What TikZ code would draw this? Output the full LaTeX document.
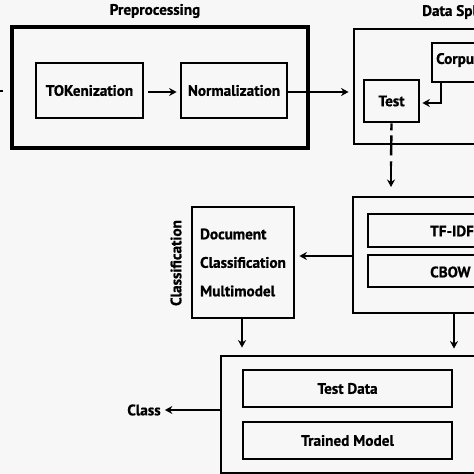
\documentclass[tikz,border=0pt]{standalone}
\usepackage{fontspec}
\setmainfont{PT Sans}[BoldFeatures={FakeBold=0.8}]
\usetikzlibrary{arrows.meta}
\begin{document}
\begin{tikzpicture}[x=1pt,y=-1pt,
  pbox/.style={draw=black,line width=3.8pt,inner sep=0pt},
  obox/.style={draw=black,line width=2.9pt,inner sep=0pt},
  ibox/.style={draw=black,line width=2.8pt,inner sep=0pt,font=\bfseries\fontsize{15.2}{18}\selectfont},
  txt/.style={inner sep=0pt,font=\bfseries\fontsize{15.2}{18}\selectfont},
  conn/.style={line width=2.5pt,-{Stealth[length=7.5pt,width=8pt]}},
]
\useasboundingbox (0,0) rectangle (474,474);
\clip (0,0) rectangle (474,474);
\fill[white!97!black] (0,0) rectangle (474,474);
% Preprocessing
\node[txt] (tprep) at (155,11) {Preprocessing};
\node[pbox,minimum width=296pt,minimum height=121pt] (prep) at (160,87.5) {};
\node[ibox,minimum width=107pt,minimum height=55pt] (tok) at (89.5,90.5) {TOKenization};
\node[ibox,minimum width=106pt,minimum height=55pt] (norm) at (234,90.5) {Normalization};
\coordinate (lin) at (3,91);
\coordinate (lout) at (-10,91);
\draw[line width=2.4pt] (lout) -- (lin);
\draw[conn,shorten <=4pt,shorten >=3pt] (tok.east |- 0,92) -- (norm.west |- 0,92);
% Data split
\node[txt,anchor=west] (tsplit) at (422,12) {Data Split};
\node[obox,minimum width=136pt,minimum height=115pt] (split) at (422,86.5) {};
\draw[conn,shorten >=4pt] (norm.east |- 0,92) -- (split.west |- 0,92);
\node[ibox,minimum width=58pt,minimum height=39pt] (corpus) at (461,62.5) {};
\node[txt,anchor=west] (tcorpus) at (436,60) {Corpus};
\node[ibox,minimum width=55pt,minimum height=42pt] (test) at (391.5,101) {Test};
\draw[conn,shorten >=2pt] (corpus.south -| 441,0) |- (test.east |- 0,103);
% Features
\node[obox,minimum width=137pt,minimum height=116pt] (feat) at (421.5,255) {};
\node[ibox,minimum width=122pt,minimum height=33pt] (tfidf) at (429,230.5) {};
\node[txt,anchor=west] (ttfidf) at (430,231) {TF-IDF};
\node[ibox,minimum width=122pt,minimum height=32pt] (cbow) at (429,271) {};
\node[txt,anchor=west] (tcbow) at (430,272) {CBOW};
\coordinate (dend) at (391,187);
\draw[line width=2.4pt,dash pattern=on 7pt off 5pt on 20pt off 6pt] (test.south) -- (391,166);
\draw[conn] (391,166) -- (dend);
% Document classification
\node[ibox,minimum width=102pt,minimum height=111pt,align=left,font=\bfseries\fontsize{15.2}{28.5}\selectfont] (doc) at (243,262.5) {Document\\Classification\\Multimodel};
\node[txt,rotate=90] (tclass) at (176,263) {Classification};
\draw[conn,shorten >=4pt] (feat.west |- 0,256) -- (doc.east |- 0,256);
% Bottom
\node[obox,minimum width=269pt,minimum height=117pt] (bot) at (355.5,414.5) {};
\node[ibox,minimum width=209pt,minimum height=37pt] (tdata) at (347.5,388.5) {Test Data};
\node[ibox,minimum width=209pt,minimum height=37pt] (trained) at (347.5,440.5) {Trained Model};
\draw[conn,shorten >=7pt] (doc.south -| 242,0) -- (bot.north -| 242,0);
\draw[conn,shorten >=6pt] (feat.south -| 454,0) -- (bot.north -| 454,0);
\node[txt] (tcl) at (144,410) {Class};
\draw[conn,shorten >=4pt] (bot.west |- 0,410) -- (tcl.east);
\end{tikzpicture}
\end{document}
